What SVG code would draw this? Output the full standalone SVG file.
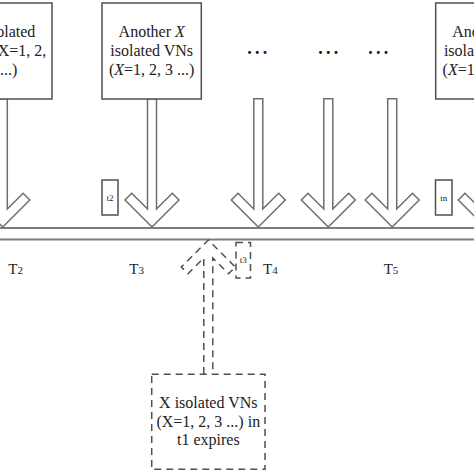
<svg xmlns="http://www.w3.org/2000/svg" width="474" height="474" viewBox="0 0 474 474">
<style>
.box{fill:#fff;stroke:#505050;stroke-width:1.5}
.dbox{fill:none;stroke:#505050;stroke-width:1.5;stroke-dasharray:7,5}
.arr{fill:#fff;stroke:#6e6e6e;stroke-width:1.5;stroke-linejoin:miter}
.darr{fill:none;stroke:#505050;stroke-width:1.5;stroke-dasharray:7,5}
.hl{stroke:#7d7d7d;stroke-width:2}
.t{font-family:"Liberation Serif","Times New Roman",serif;font-size:16px;fill:#222;text-anchor:middle}
.s{font-family:"Liberation Serif","Times New Roman",serif;font-size:9px;fill:#222;text-anchor:middle}
.T{font-family:"Liberation Serif","Times New Roman",serif;font-size:15px;fill:#222}
.d{font-family:"Liberation Serif","Times New Roman",serif;font-size:18px;font-weight:bold;fill:#111;letter-spacing:3.2px}
</style>
<defs>
<path id="down" d="M-4.5,0 V110.3 L-20.3,94.6 L-27,101.3 L0,128.3 L27,101.3 L20.3,94.6 L4.5,110.3 V0 Z"/>
</defs>
<g id="connectors">
<line class="hl" x1="0" y1="228" x2="474" y2="228"/>
<line class="hl" x1="0" y1="239.5" x2="474" y2="239.5"/>
<use href="#down" class="arr" x="2.8" y="98.7"/>
<use href="#down" class="arr" x="152" y="98.7"/>
<use href="#down" class="arr" x="258.3" y="98.7"/>
<use href="#down" class="arr" x="328.3" y="98.7"/>
<use href="#down" class="arr" x="392.2" y="98.7"/>
<use href="#down" class="arr" x="485.3" y="98.7"/>
<path class="darr" d="M203.8,374 V258 L188,273.7 L181.3,267 L208.3,240 L235.3,267 L228.6,273.7 L212.8,258 V374"/>
</g>
<g id="node-left">
<rect class="box" x="-47" y="3" width="99" height="96"/>
<text class="t" x="2.7" y="36.5">X isolated</text>
<text class="t" x="2.7" y="55.5">VNs (X=1, 2,</text>
<text class="t" x="2.7" y="74.5">3 ...)</text>
</g>
<g id="node-another-1">
<rect class="box" x="102" y="3" width="99.3" height="96"/>
<text class="t" x="151.7" y="37">Another <tspan font-style="italic">X</tspan></text>
<text class="t" x="151.7" y="56">isolated VNs</text>
<text class="t" x="151.7" y="75">(<tspan font-style="italic">X</tspan>=1, 2, 3 ...)</text>
</g>
<g id="node-another-n">
<rect class="box" x="435.7" y="3" width="99.3" height="96"/>
<text class="t" x="485.3" y="37">Another <tspan font-style="italic">X</tspan></text>
<text class="t" x="485.3" y="56">isolated VNs</text>
<text class="t" x="485.3" y="75">(<tspan font-style="italic">X</tspan>=1, 2, 3 ...)</text>
</g>
<g id="dots">
<text class="d" x="247.3" y="54">...</text>
<text class="d" x="318.3" y="54">...</text>
<text class="d" x="368.3" y="54">...</text>
</g>
<g id="node-t2">
<rect class="box" x="102" y="180" width="16" height="35" stroke-width="1.2"/>
<text class="s" x="110" y="201">t2</text>
</g>
<g id="node-tn">
<rect class="box" x="435.5" y="180" width="16.5" height="35" stroke-width="1.2"/>
<text class="s" x="443.7" y="201">tn</text>
</g>
<g id="node-t3">
<rect class="dbox" x="236" y="242.5" width="14.5" height="35.5" stroke-dasharray="5,4"/>
<text class="s" x="243.3" y="263">t3</text>
</g>
<g id="labels">
<text class="T" x="8.3" y="274">T<tspan font-size="11">2</tspan></text>
<text class="T" x="129.3" y="274">T<tspan font-size="11">3</tspan></text>
<text class="T" x="263" y="274">T<tspan font-size="11">4</tspan></text>
<text class="T" x="383.7" y="274">T<tspan font-size="11">5</tspan></text>
</g>
<g id="node-expire">
<rect class="dbox" x="151.7" y="374.3" width="113.3" height="95"/>
<text class="t" x="208.3" y="408">X isolated VNs</text>
<text class="t" x="208.3" y="426.5">(X=1, 2, 3 ...) in</text>
<text class="t" x="208.3" y="445">t1 expires</text>
</g>
</svg>
